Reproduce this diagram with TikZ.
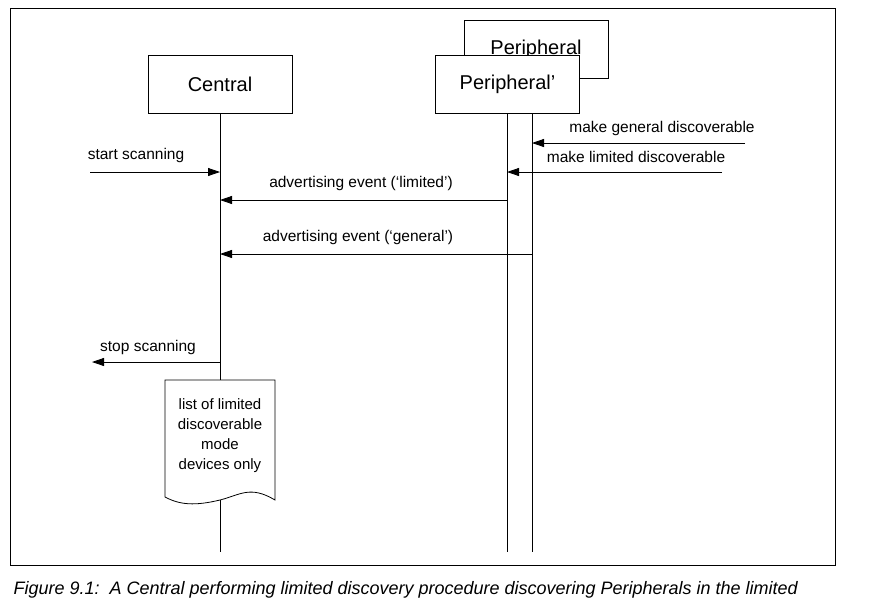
\documentclass[tikz,border=0pt]{standalone}
\usepackage{fontspec}
\setmainfont{Liberation Sans}
\usetikzlibrary{arrows.meta}
\begin{document}
\begin{tikzpicture}[x=1pt,y=-1pt,
  box/.style={draw,thick,fill=white,minimum width=144pt,minimum height=58pt,inner sep=0pt,font=\fontsize{20}{22}\selectfont},
  msg/.style={thick,-{Triangle[length=12pt,width=8pt]}},
  lbl/.style={font=\fontsize{15.5}{17}\selectfont,anchor=base},
  life/.style={thick}]
\useasboundingbox (0,0) rectangle (872,608);
\draw[thick] (10,8) rectangle (835,565);
\node[box] (pb) at (536,49) {Peripheral};
\node[box] (pf) at (507.5,84) {Peripheral'};
\node[box] (c) at (220,84) {Central};
\coordinate (cEnd) at (220,552);
\coordinate (lEnd) at (507,552);
\coordinate (gEnd) at (532,552);
\coordinate (lTop) at (507,113);
\coordinate (gTop) at (532,113);
\draw[life] (c.south) -- (cEnd);
\draw[life] (lTop) -- (lEnd);
\draw[life] (gTop) -- (gEnd);
\coordinate (s1) at (745,143); \coordinate (g1) at (532,143);
\draw[msg] (s1) -- (g1);
\node[lbl] at (662,132) {make general discoverable};
\coordinate (s2) at (722,172); \coordinate (l1) at (507,172);
\draw[msg] (s2) -- (l1);
\node[lbl] at (636,162) {make limited discoverable};
\coordinate (s3) at (90,172); \coordinate (c1) at (220,172);
\draw[msg] (s3) -- (c1);
\node[lbl] at (136,159) {start scanning};
\coordinate (l2) at (507,200); \coordinate (c2) at (220,200);
\draw[msg] (l2) -- (c2);
\node[lbl] at (361,187) {advertising event (‘limited’)};
\coordinate (g2) at (532,254); \coordinate (c3) at (220,254);
\draw[msg] (g2) -- (c3);
\node[lbl] at (358,241) {advertising event (‘general’)};
\coordinate (c4) at (220,362); \coordinate (s4) at (92,362);
\draw[msg] (c4) -- (s4);
\node[lbl] at (148,351) {stop scanning};
\draw[thick,fill=white] (165,380) -- (275,380) -- (275,500)
  .. controls (250,485) and (240,495) .. (220,500)
  .. controls (195,506) and (180,505) .. (165,497) -- cycle;
\node[font=\fontsize{15}{20}\selectfont,align=center] (doc) at (220,436) {list of limited\\discoverable\\mode\\devices only};
\node[anchor=base west,font=\itshape\fontsize{18}{20}\selectfont] (cap) at (10,594) {Figure 9.1:\ \ A Central performing limited discovery procedure discovering Peripherals in the limited};
\end{tikzpicture}
\end{document}
